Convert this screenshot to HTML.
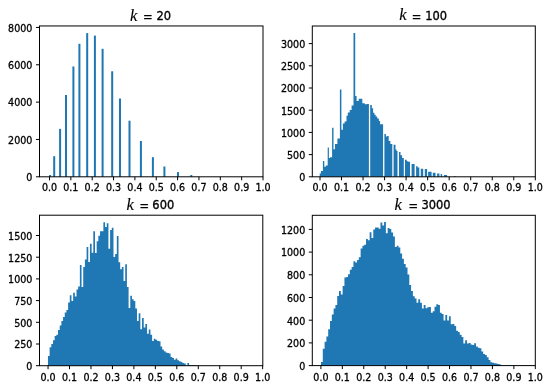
<!DOCTYPE html>
<html><head><meta charset="utf-8"><title>Histograms</title>
<style>
html,body{margin:0;padding:0;background:#fff;}
body{width:550px;height:391px;overflow:hidden;}
svg{display:block;}
.t{font-family:"DejaVu Sans","Liberation Sans",sans-serif;font-size:10px;fill:#000;stroke:#000;stroke-width:0.3px;}
.tt{font-family:"DejaVu Sans","Liberation Sans",sans-serif;font-size:12px;fill:#000;stroke:#000;stroke-width:0.35px;}
.k{font-family:"Liberation Serif","DejaVu Serif",serif;font-style:italic;font-size:16.5px;fill:#000;stroke:#000;stroke-width:0.1px;}
</style></head><body>
<svg width="550" height="391" viewBox="0 0 550 391">
<rect x="0" y="0" width="550" height="391" fill="#ffffff"/>
<rect x="49.1" y="175" width="2" height="1.8" fill="#1f77b4"/>
<rect x="53.2" y="156.2" width="2" height="20.6" fill="#1f77b4"/>
<rect x="59.1" y="128.9" width="2" height="47.9" fill="#1f77b4"/>
<rect x="65" y="95" width="2" height="81.8" fill="#1f77b4"/>
<rect x="72.4" y="66.5" width="2" height="110.3" fill="#1f77b4"/>
<rect x="78.4" y="43.8" width="2" height="133" fill="#1f77b4"/>
<rect x="86.2" y="33.1" width="2" height="143.7" fill="#1f77b4"/>
<rect x="93.9" y="35.6" width="2" height="141.2" fill="#1f77b4"/>
<rect x="101.6" y="48.8" width="2" height="128" fill="#1f77b4"/>
<rect x="111.2" y="71.3" width="2" height="105.5" fill="#1f77b4"/>
<rect x="119" y="98.5" width="2" height="78.3" fill="#1f77b4"/>
<rect x="128.5" y="120.7" width="2" height="56.1" fill="#1f77b4"/>
<rect x="139.9" y="141" width="2" height="35.8" fill="#1f77b4"/>
<rect x="151.9" y="157.2" width="2" height="19.6" fill="#1f77b4"/>
<rect x="163.4" y="166.5" width="2" height="10.3" fill="#1f77b4"/>
<rect x="177" y="172.1" width="2" height="4.7" fill="#1f77b4"/>
<rect x="190.3" y="175" width="2" height="1.8" fill="#1f77b4"/>
<rect x="39.5" y="25.95" width="223.5" height="150.85" fill="none" stroke="#000" stroke-width="1.0" stroke-linejoin="miter" stroke-linecap="square"/>
<path d="M49.5,176.8 v3.5 M70.85,176.8 v3.5 M92.2,176.8 v3.5 M113.55,176.8 v3.5 M134.9,176.8 v3.5 M156.25,176.8 v3.5 M177.6,176.8 v3.5 M198.95,176.8 v3.5 M220.3,176.8 v3.5 M241.65,176.8 v3.5 M263,176.8 v3.5 M39.5,176.8 h-3.5 M39.5,139.46 h-3.5 M39.5,102.13 h-3.5 M39.5,64.79 h-3.5 M39.5,27.45 h-3.5" stroke="#000" stroke-width="1.0" fill="none"/>
<text transform="translate(49.5,191.2) scale(0.955,1)" class="t" text-anchor="middle">0.0</text>
<text transform="translate(70.85,191.2) scale(0.955,1)" class="t" text-anchor="middle">0.1</text>
<text transform="translate(92.2,191.2) scale(0.955,1)" class="t" text-anchor="middle">0.2</text>
<text transform="translate(113.55,191.2) scale(0.955,1)" class="t" text-anchor="middle">0.3</text>
<text transform="translate(134.9,191.2) scale(0.955,1)" class="t" text-anchor="middle">0.4</text>
<text transform="translate(156.25,191.2) scale(0.955,1)" class="t" text-anchor="middle">0.5</text>
<text transform="translate(177.6,191.2) scale(0.955,1)" class="t" text-anchor="middle">0.6</text>
<text transform="translate(198.95,191.2) scale(0.955,1)" class="t" text-anchor="middle">0.7</text>
<text transform="translate(220.3,191.2) scale(0.955,1)" class="t" text-anchor="middle">0.8</text>
<text transform="translate(241.65,191.2) scale(0.955,1)" class="t" text-anchor="middle">0.9</text>
<text transform="translate(263,191.2) scale(0.955,1)" class="t" text-anchor="middle">1.0</text>
<text transform="translate(32.4,181.1) scale(0.955,1)" class="t" text-anchor="end">0</text>
<text transform="translate(32.4,143.76) scale(0.955,1)" class="t" text-anchor="end">2000</text>
<text transform="translate(32.4,106.43) scale(0.955,1)" class="t" text-anchor="end">4000</text>
<text transform="translate(32.4,69.09) scale(0.955,1)" class="t" text-anchor="end">6000</text>
<text transform="translate(32.4,31.75) scale(0.955,1)" class="t" text-anchor="end">8000</text>
<text x="130.04" y="20.6" class="k">k</text>
<text transform="translate(143.06,21.1) scale(0.955,1)" class="tt">=</text>
<text transform="translate(156.53,20.2) scale(0.955,1)" class="tt">20</text>
<path d="M319.7,176.8 L319.7,173.5 L320.9,173.5 L320.9,170.9 L322.9,170.9 L322.9,160.9 L324.3,160.9 L324.3,166.7 L325.8,166.7 L325.8,165.5 L327.7,165.5 L327.7,147.6 L328.9,147.6 L328.9,158 L330.1,158 L330.1,157.3 L332.1,157.3 L332.1,127.7 L333.5,127.7 L333.5,149.2 L335,149.2 L335,143.9 L337.4,143.9 L337.4,138.6 L339.9,138.6 L339.9,89.5 L341.4,89.5 L341.4,129.8 L342.9,129.8 L342.9,123.4 L344.6,123.4 L344.6,121.4 L346.5,121.4 L346.5,115.7 L347.8,115.7 L347.8,112.5 L349.7,112.5 L349.7,110 L351.6,110 L351.6,105.5 L353.5,105.5 L353.5,33.1 L355.2,33.1 L355.2,96 L356.6,96 L356.6,101 L358.7,101 L358.7,98.7 L362.3,98.7 L362.3,103.2 L364.8,103.2 L364.8,104.3 L367,104.3 L367,103.9 L368.9,103.9 L368.9,176.8 Z M370.2,176.8 L370.2,105.1 L371.8,105.1 L371.8,108.3 L373.1,108.3 L373.1,112.8 L374.4,112.8 L374.4,114.7 L375.7,114.7 L375.7,116.6 L377.2,116.6 L377.2,118.5 L378.9,118.5 L378.9,121.1 L380.1,121.1 L380.1,124.3 L383.1,124.3 L383.1,176.8 Z M384.4,176.8 L384.4,133.9 L385.9,133.9 L385.9,136.4 L387.2,136.4 L387.2,136 L388.7,136 L388.7,140.9 L390.4,140.9 L390.4,144.1 L392.3,144.1 L392.3,176.8 Z M393.6,176.8 L393.6,144.8 L395.5,144.8 L395.5,149.6 L396.5,149.6 L396.5,151.1 L397.5,151.1 L397.5,176.8 Z M399,176.8 L399,152.1 L400.5,152.1 L400.5,155.2 L402.1,155.2 L402.1,158 L403.8,158 L403.8,176.8 Z M405,176.8 L405,159.7 L406.7,159.7 L406.7,161.3 L408.2,161.3 L408.2,161.7 L410,161.7 L410,176.8 Z M411.6,176.8 L411.6,164.1 L414.6,164.1 L414.6,176.8 Z M416.1,176.8 L416.1,166.2 L417.7,166.2 L417.7,167.4 L419.3,167.4 L419.3,176.8 Z M420.8,176.8 L420.8,168.7 L423.2,168.7 L423.2,176.8 Z M424.8,176.8 L424.8,169 L427.1,169 L427.1,176.8 Z M428.1,176.8 L428.1,171.7 L431.6,171.7 L431.6,176.8 Z M432.8,176.8 L432.8,172.8 L435.5,172.8 L435.5,176.8 Z M437.1,176.8 L437.1,173.5 L439.4,173.5 L439.4,176.8 Z M440.7,176.8 L440.7,174.1 L442.1,174.1 L442.1,176.8 Z M443.9,176.8 L443.9,175 L447.1,175 L447.1,176.8 Z M454,176.8 L454,176 L455.5,176 L455.5,176.8 Z" fill="#1f77b4"/>
<rect x="312.3" y="26" width="223" height="150.8" fill="none" stroke="#000" stroke-width="1.0" stroke-linejoin="miter" stroke-linecap="square"/>
<path d="M320,176.8 v3.5 M341.53,176.8 v3.5 M363.06,176.8 v3.5 M384.59,176.8 v3.5 M406.12,176.8 v3.5 M427.65,176.8 v3.5 M449.18,176.8 v3.5 M470.71,176.8 v3.5 M492.24,176.8 v3.5 M513.77,176.8 v3.5 M535.3,176.8 v3.5 M312.3,176.8 h-3.5 M312.3,154.6 h-3.5 M312.3,132.4 h-3.5 M312.3,110.2 h-3.5 M312.3,88 h-3.5 M312.3,65.8 h-3.5 M312.3,43.6 h-3.5" stroke="#000" stroke-width="1.0" fill="none"/>
<text transform="translate(320,191.2) scale(0.955,1)" class="t" text-anchor="middle">0.0</text>
<text transform="translate(341.53,191.2) scale(0.955,1)" class="t" text-anchor="middle">0.1</text>
<text transform="translate(363.06,191.2) scale(0.955,1)" class="t" text-anchor="middle">0.2</text>
<text transform="translate(384.59,191.2) scale(0.955,1)" class="t" text-anchor="middle">0.3</text>
<text transform="translate(406.12,191.2) scale(0.955,1)" class="t" text-anchor="middle">0.4</text>
<text transform="translate(427.65,191.2) scale(0.955,1)" class="t" text-anchor="middle">0.5</text>
<text transform="translate(449.18,191.2) scale(0.955,1)" class="t" text-anchor="middle">0.6</text>
<text transform="translate(470.71,191.2) scale(0.955,1)" class="t" text-anchor="middle">0.7</text>
<text transform="translate(492.24,191.2) scale(0.955,1)" class="t" text-anchor="middle">0.8</text>
<text transform="translate(513.77,191.2) scale(0.955,1)" class="t" text-anchor="middle">0.9</text>
<text transform="translate(535.3,191.2) scale(0.955,1)" class="t" text-anchor="middle">1.0</text>
<text transform="translate(305.2,181.1) scale(0.955,1)" class="t" text-anchor="end">0</text>
<text transform="translate(305.2,158.9) scale(0.955,1)" class="t" text-anchor="end">500</text>
<text transform="translate(305.2,136.7) scale(0.955,1)" class="t" text-anchor="end">1000</text>
<text transform="translate(305.2,114.5) scale(0.955,1)" class="t" text-anchor="end">1500</text>
<text transform="translate(305.2,92.3) scale(0.955,1)" class="t" text-anchor="end">2000</text>
<text transform="translate(305.2,70.1) scale(0.955,1)" class="t" text-anchor="end">2500</text>
<text transform="translate(305.2,47.9) scale(0.955,1)" class="t" text-anchor="end">3000</text>
<text x="399.24" y="20.4" class="k">k</text>
<text transform="translate(411.66,20.9) scale(0.955,1)" class="tt">=</text>
<text transform="translate(425.21,20) scale(0.955,1)" class="tt">100</text>
<path d="M47.95,365.7 L47.95,355.9 L49.63,355.9 L49.63,347.3 L51.31,347.3 L51.31,344.1 L52.99,344.1 L52.99,340.2 L54.67,340.2 L54.67,335.9 L56.35,335.9 L56.35,334.7 L58.03,334.7 L58.03,330 L59.71,330 L59.71,325.4 L61.39,325.4 L61.39,320.9 L63.07,320.9 L63.07,317.1 L64.75,317.1 L64.75,312.6 L66.43,312.6 L66.43,310 L68.11,310 L68.11,302.4 L69.79,302.4 L69.79,295.3 L71.47,295.3 L71.47,301.1 L73.15,301.1 L73.15,292.8 L74.83,292.8 L74.83,296.6 L76.51,296.6 L76.51,289.6 L78.19,289.6 L78.19,286.4 L79.87,286.4 L79.87,264.9 L81.55,264.9 L81.55,287 L83.23,287 L83.23,267 L84.91,267 L84.91,259.4 L86.59,259.4 L86.59,246.9 L88.27,246.9 L88.27,262 L89.95,262 L89.95,243.7 L91.63,243.7 L91.63,252.7 L93.31,252.7 L93.31,231.2 L94.99,231.2 L94.99,253 L96.67,253 L96.67,241.2 L98.35,241.2 L98.35,235.8 L100.03,235.8 L100.03,231.2 L101.71,231.2 L101.71,231.2 L103.39,231.2 L103.39,222.2 L105.07,222.2 L105.07,226.9 L106.75,226.9 L106.75,223.2 L108.43,223.2 L108.43,248.7 L110.11,248.7 L110.11,230 L111.79,230 L111.79,227.8 L113.47,227.8 L113.47,257 L115.15,257 L115.15,254 L116.83,254 L116.83,236.1 L118.51,236.1 L118.51,262.3 L120.19,262.3 L120.19,269.2 L121.87,269.2 L121.87,266.9 L123.55,266.9 L123.55,281.1 L125.23,281.1 L125.23,264.2 L126.91,264.2 L126.91,287.1 L128.59,287.1 L128.59,308 L130.27,308 L130.27,295.7 L131.95,295.7 L131.95,299.2 L133.63,299.2 L133.63,301.1 L135.31,301.1 L135.31,308.4 L136.99,308.4 L136.99,321 L138.67,321 L138.67,313.3 L140.35,313.3 L140.35,329.2 L142.03,329.2 L142.03,317.9 L143.71,317.9 L143.71,327.6 L145.39,327.6 L145.39,324 L147.07,324 L147.07,333.8 L148.75,333.8 L148.75,329.5 L150.43,329.5 L150.43,334.8 L152.11,334.8 L152.11,340.9 L153.79,340.9 L153.79,338.8 L155.47,338.8 L155.47,339.8 L157.15,339.8 L157.15,340.9 L158.83,340.9 L158.83,341.3 L160.51,341.3 L160.51,346.5 L162.19,346.5 L162.19,349.4 L163.87,349.4 L163.87,351.3 L165.55,351.3 L165.55,352.5 L167.23,352.5 L167.23,353 L168.91,353 L168.91,353.4 L170.59,353.4 L170.59,357 L172.27,357 L172.27,358 L173.95,358 L173.95,359.8 L175.63,359.8 L175.63,358.5 L177.31,358.5 L177.31,360.3 L178.99,360.3 L178.99,361.2 L180.67,361.2 L180.67,362 L182.35,362 L182.35,362.9 L184.03,362.9 L184.03,363.5 L185.71,363.5 L185.71,365.7 Z M187.39,365.7 L187.39,363 L189.07,363 L189.07,365 L190.75,365 L190.75,365 L192.43,365 L192.43,365.1 L194.11,365.1 L194.11,365.1 L195.79,365.1 L195.79,365.2 L197.47,365.2 L197.47,365.7 Z" fill="#1f77b4"/>
<rect x="39.5" y="215.2" width="223.3" height="150.5" fill="none" stroke="#000" stroke-width="1.0" stroke-linejoin="miter" stroke-linecap="square"/>
<path d="M48.05,365.7 v3.5 M69.51,365.7 v3.5 M90.97,365.7 v3.5 M112.43,365.7 v3.5 M133.89,365.7 v3.5 M155.35,365.7 v3.5 M176.81,365.7 v3.5 M198.27,365.7 v3.5 M219.73,365.7 v3.5 M241.19,365.7 v3.5 M262.65,365.7 v3.5 M39.5,365.7 h-3.5 M39.5,344 h-3.5 M39.5,322.3 h-3.5 M39.5,300.6 h-3.5 M39.5,278.9 h-3.5 M39.5,257.2 h-3.5 M39.5,235.5 h-3.5" stroke="#000" stroke-width="1.0" fill="none"/>
<text transform="translate(48.05,380.5) scale(0.955,1)" class="t" text-anchor="middle">0.0</text>
<text transform="translate(69.51,380.5) scale(0.955,1)" class="t" text-anchor="middle">0.1</text>
<text transform="translate(90.97,380.5) scale(0.955,1)" class="t" text-anchor="middle">0.2</text>
<text transform="translate(112.43,380.5) scale(0.955,1)" class="t" text-anchor="middle">0.3</text>
<text transform="translate(133.89,380.5) scale(0.955,1)" class="t" text-anchor="middle">0.4</text>
<text transform="translate(155.35,380.5) scale(0.955,1)" class="t" text-anchor="middle">0.5</text>
<text transform="translate(176.81,380.5) scale(0.955,1)" class="t" text-anchor="middle">0.6</text>
<text transform="translate(198.27,380.5) scale(0.955,1)" class="t" text-anchor="middle">0.7</text>
<text transform="translate(219.73,380.5) scale(0.955,1)" class="t" text-anchor="middle">0.8</text>
<text transform="translate(241.19,380.5) scale(0.955,1)" class="t" text-anchor="middle">0.9</text>
<text transform="translate(262.65,380.5) scale(0.955,1)" class="t" text-anchor="middle">1.0</text>
<text transform="translate(32.4,370) scale(0.955,1)" class="t" text-anchor="end">0</text>
<text transform="translate(32.4,348.3) scale(0.955,1)" class="t" text-anchor="end">250</text>
<text transform="translate(32.4,326.6) scale(0.955,1)" class="t" text-anchor="end">500</text>
<text transform="translate(32.4,304.9) scale(0.955,1)" class="t" text-anchor="end">750</text>
<text transform="translate(32.4,283.2) scale(0.955,1)" class="t" text-anchor="end">1000</text>
<text transform="translate(32.4,261.5) scale(0.955,1)" class="t" text-anchor="end">1250</text>
<text transform="translate(32.4,239.8) scale(0.955,1)" class="t" text-anchor="end">1500</text>
<text x="126.44" y="209.8" class="k">k</text>
<text transform="translate(139.46,210.3) scale(0.955,1)" class="tt">=</text>
<text transform="translate(152.37,209.4) scale(0.955,1)" class="tt">600</text>
<path d="M321,365.6 L321,362.1 L322.8,362.1 L322.8,348.8 L324.6,348.8 L324.6,341.8 L326.41,341.8 L326.41,336.5 L328.21,336.5 L328.21,329.2 L330.01,329.2 L330.01,321 L331.81,321 L331.81,314.6 L333.61,314.6 L333.61,308.4 L335.42,308.4 L335.42,305.1 L337.22,305.1 L337.22,296.1 L339.02,296.1 L339.02,291 L340.82,291 L340.82,294.4 L342.62,294.4 L342.62,286 L344.43,286 L344.43,277.6 L346.23,277.6 L346.23,277 L348.03,277 L348.03,274.2 L349.83,274.2 L349.83,269.7 L351.63,269.7 L351.63,266.9 L353.44,266.9 L353.44,261.2 L355.24,261.2 L355.24,262.4 L357.04,262.4 L357.04,260 L358.84,260 L358.84,257.2 L360.64,257.2 L360.64,248.6 L362.45,248.6 L362.45,245.8 L364.25,245.8 L364.25,244.7 L366.05,244.7 L366.05,239.1 L367.85,239.1 L367.85,240.2 L369.65,240.2 L369.65,232.3 L371.46,232.3 L371.46,237.9 L373.26,237.9 L373.26,229.4 L375.06,229.4 L375.06,227.4 L376.86,227.4 L376.86,227.5 L378.66,227.5 L378.66,228.7 L380.47,228.7 L380.47,222.5 L382.27,222.5 L382.27,225.6 L384.07,225.6 L384.07,222.1 L385.87,222.1 L385.87,233.3 L387.67,233.3 L387.67,227.9 L389.48,227.9 L389.48,229 L391.28,229 L391.28,232.5 L393.08,232.5 L393.08,236.5 L394.88,236.5 L394.88,246.9 L396.68,246.9 L396.68,245.7 L398.49,245.7 L398.49,247.4 L400.29,247.4 L400.29,253.6 L402.09,253.6 L402.09,258.7 L403.89,258.7 L403.89,264 L405.69,264 L405.69,267.5 L407.5,267.5 L407.5,274.5 L409.3,274.5 L409.3,284.9 L411.1,284.9 L411.1,291 L412.9,291 L412.9,296.3 L414.7,296.3 L414.7,298.5 L416.51,298.5 L416.51,302.8 L418.31,302.8 L418.31,299.2 L420.11,299.2 L420.11,302.8 L421.91,302.8 L421.91,308.5 L423.71,308.5 L423.71,304.9 L425.52,304.9 L425.52,308.3 L427.32,308.3 L427.32,307.3 L429.12,307.3 L429.12,307 L430.92,307 L430.92,312.8 L432.72,312.8 L432.72,311.3 L434.53,311.3 L434.53,306.7 L436.33,306.7 L436.33,304.2 L438.13,304.2 L438.13,304.9 L439.93,304.9 L439.93,312.8 L441.73,312.8 L441.73,314 L443.54,314 L443.54,320.4 L445.34,320.4 L445.34,315 L447.14,315 L447.14,320.4 L448.94,320.4 L448.94,316.3 L450.74,316.3 L450.74,324.3 L452.55,324.3 L452.55,324 L454.35,324 L454.35,326 L456.15,326 L456.15,330.7 L457.95,330.7 L457.95,332.1 L459.75,332.1 L459.75,334.8 L461.56,334.8 L461.56,337 L463.36,337 L463.36,343.4 L465.16,343.4 L465.16,340.2 L466.96,340.2 L466.96,343.4 L468.76,343.4 L468.76,343.1 L470.57,343.1 L470.57,344.5 L472.37,344.5 L472.37,345 L474.17,345 L474.17,343.2 L475.97,343.2 L475.97,346.4 L477.77,346.4 L477.77,347.7 L479.58,347.7 L479.58,348.2 L481.38,348.2 L481.38,351.4 L483.18,351.4 L483.18,354.1 L484.98,354.1 L484.98,355 L486.78,355 L486.78,357.3 L488.59,357.3 L488.59,360 L490.39,360 L490.39,362.3 L492.19,362.3 L492.19,362.7 L493.99,362.7 L493.99,363.2 L495.79,363.2 L495.79,363.6 L497.6,363.6 L497.6,364.1 L499.4,364.1 L499.4,364.5 L501.2,364.5 L501.2,365.6 Z" fill="#1f77b4"/>
<rect x="312.3" y="215.3" width="223" height="150.3" fill="none" stroke="#000" stroke-width="1.0" stroke-linejoin="miter" stroke-linecap="square"/>
<path d="M320.9,365.6 v3.5 M342.34,365.6 v3.5 M363.78,365.6 v3.5 M385.22,365.6 v3.5 M406.66,365.6 v3.5 M428.1,365.6 v3.5 M449.54,365.6 v3.5 M470.98,365.6 v3.5 M492.42,365.6 v3.5 M513.86,365.6 v3.5 M535.3,365.6 v3.5 M312.3,365.6 h-3.5 M312.3,342.9 h-3.5 M312.3,320.2 h-3.5 M312.3,297.5 h-3.5 M312.3,274.8 h-3.5 M312.3,252.1 h-3.5 M312.3,229.4 h-3.5" stroke="#000" stroke-width="1.0" fill="none"/>
<text transform="translate(320.9,380.5) scale(0.955,1)" class="t" text-anchor="middle">0.0</text>
<text transform="translate(342.34,380.5) scale(0.955,1)" class="t" text-anchor="middle">0.1</text>
<text transform="translate(363.78,380.5) scale(0.955,1)" class="t" text-anchor="middle">0.2</text>
<text transform="translate(385.22,380.5) scale(0.955,1)" class="t" text-anchor="middle">0.3</text>
<text transform="translate(406.66,380.5) scale(0.955,1)" class="t" text-anchor="middle">0.4</text>
<text transform="translate(428.1,380.5) scale(0.955,1)" class="t" text-anchor="middle">0.5</text>
<text transform="translate(449.54,380.5) scale(0.955,1)" class="t" text-anchor="middle">0.6</text>
<text transform="translate(470.98,380.5) scale(0.955,1)" class="t" text-anchor="middle">0.7</text>
<text transform="translate(492.42,380.5) scale(0.955,1)" class="t" text-anchor="middle">0.8</text>
<text transform="translate(513.86,380.5) scale(0.955,1)" class="t" text-anchor="middle">0.9</text>
<text transform="translate(535.3,380.5) scale(0.955,1)" class="t" text-anchor="middle">1.0</text>
<text transform="translate(305.2,369.9) scale(0.955,1)" class="t" text-anchor="end">0</text>
<text transform="translate(305.2,347.2) scale(0.955,1)" class="t" text-anchor="end">200</text>
<text transform="translate(305.2,324.5) scale(0.955,1)" class="t" text-anchor="end">400</text>
<text transform="translate(305.2,301.8) scale(0.955,1)" class="t" text-anchor="end">600</text>
<text transform="translate(305.2,279.1) scale(0.955,1)" class="t" text-anchor="end">800</text>
<text transform="translate(305.2,256.4) scale(0.955,1)" class="t" text-anchor="end">1000</text>
<text transform="translate(305.2,233.7) scale(0.955,1)" class="t" text-anchor="end">1200</text>
<text x="394.44" y="209.7" class="k">k</text>
<text transform="translate(408.46,210.2) scale(0.955,1)" class="tt">=</text>
<text transform="translate(421.5,209.3) scale(0.955,1)" class="tt">3000</text>
</svg>
</body></html>
